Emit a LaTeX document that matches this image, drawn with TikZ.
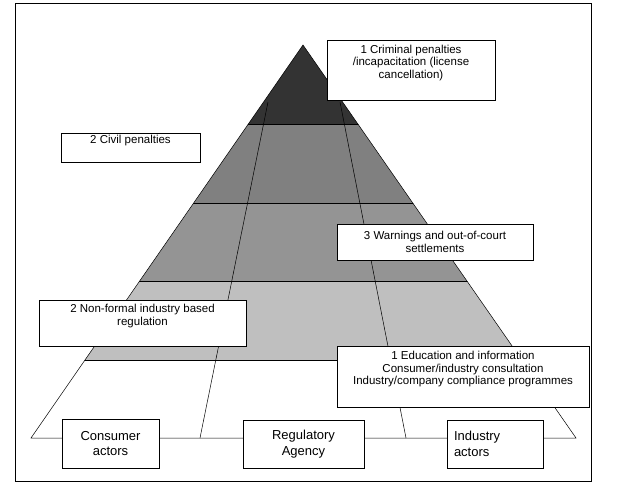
\documentclass[tikz,border=0pt]{standalone}
\usepackage{fontspec}
\setmainfont{Liberation Sans}
\begin{document}
\begin{tikzpicture}[x=1pt,y=-1pt,
 box/.style={draw,fill=white,line width=0.6pt,align=center,inner sep=1pt,font=\fontsize{11.5}{12.5}\selectfont},
 big/.style={box,font=\fontsize{13}{15.5}\selectfont}]
\useasboundingbox (0,0) rectangle (639,491);
\fill[white] (0,0) rectangle (639,491);
\draw[line width=0.6pt] (15,3) rectangle (591,481);
\coordinate (A) at (303,45);
\coordinate (L) at (31,438);
\coordinate (R) at (576,438);
\begin{scope}
\clip (A) -- (L) -- (R) -- cycle;
\fill[black!80] (0,45) rectangle (639,124);
\fill[black!50] (0,124) rectangle (639,203);
\fill[black!42] (0,203) rectangle (639,281);
\fill[black!25] (0,281) rectangle (639,360);
\foreach \y in {124,203,281,360} \draw[line width=0.5pt] (0,\y) -- (639,\y);
\end{scope}
\draw[line width=0.5pt] (A) -- (L) -- (R) -- cycle;
\coordinate (l1) at (268,102); \coordinate (l2) at (200,438);
\coordinate (r1) at (340,102); \coordinate (r2) at (406,438);
\draw[line width=0.5pt] (l1) -- (l2) (r1) -- (r2);
\node[box,minimum width=168pt,minimum height=60pt] (crim) at (411,70) {1 Criminal penalties\\/incapacitation (license\\cancellation)\\[4pt]};
\node[box,minimum width=139pt,minimum height=29pt] (civ) at (130.5,147.5) {2 Civil penalties\\[3pt]};
\node[box,minimum width=196pt,minimum height=36pt] (warn) at (435,242) {3 Warnings and out-of-court\\settlements};
\node[box,minimum width=207pt,minimum height=46pt] (nonf) at (142.5,323) {2 Non-formal industry based\\regulation\\[4pt]};
\node[box,minimum width=252pt,minimum height=61pt] (edu) at (463,376.5) {1 Education and information\\Consumer/industry consultation\\Industry/company compliance programmes\\[4pt]};
\node[big,minimum width=97pt,minimum height=49pt] (cons) at (110.5,443.5) {Consumer\\actors};
\node[big,minimum width=121pt,minimum height=48pt] (reg) at (303.5,444) {Regulatory\\Agency};
\node[big,minimum width=96pt,minimum height=48pt,text width=94pt,align=left] (ind) at (495,444) {\hspace*{6pt}Industry\\\hspace*{6pt}actors};
\end{tikzpicture}
\end{document}
